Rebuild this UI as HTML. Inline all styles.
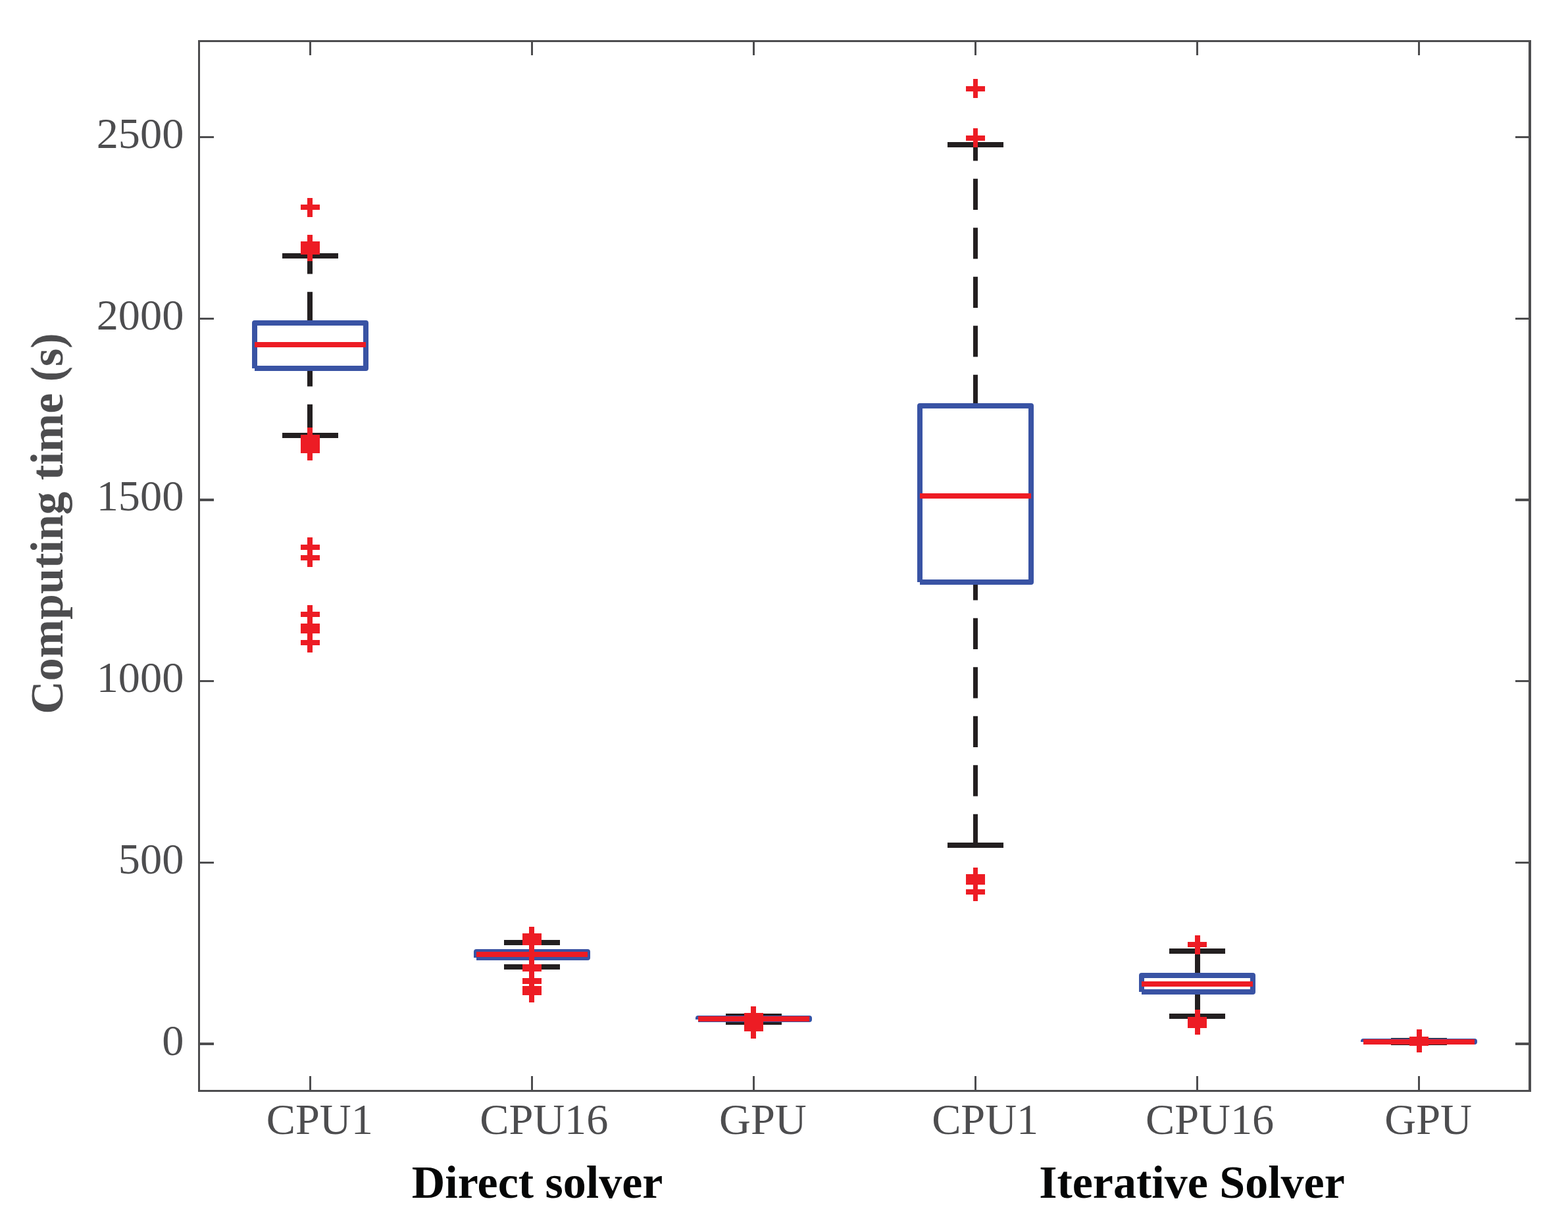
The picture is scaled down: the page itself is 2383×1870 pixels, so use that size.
<!DOCTYPE html>
<html lang="en">
<head>
<meta charset="utf-8">
<title>Computing time: direct vs iterative solver</title>
<style>
html,body{margin:0;padding:0;background:#fff;}
body{width:2383px;height:1870px;overflow:hidden;}
svg{display:block;}
svg text{font-family:"Liberation Serif",serif;}
</style>
</head>
<body>
<svg width="2383" height="1870" viewBox="0 0 2383 1870">
<rect width="2383" height="1870" fill="#fff"/>
<path d="M301 61H2327V64H301zM301 1657H2327V1660H301zM301 64H304V1657H301zM2323 64H2327V1657H2323zM470 64H473V84H470zM470 1636H473V1657H470zM807 64H810V84H807zM807 1636H810V1657H807zM1144 64H1147V84H1144zM1144 1636H1147V1657H1144zM1481 64H1484V84H1481zM1481 1636H1484V1657H1481zM1818 64H1821V84H1818zM1818 1636H1821V1657H1818zM2155 64H2158V84H2155zM2155 1636H2158V1657H2155zM304 1585H325V1589H304zM2303 1585H2323V1589H2303zM304 1310H325V1313H304zM2303 1310H2323V1313H2303zM304 1034H325V1037H304zM2303 1034H2323V1037H2303zM304 758H325V762H304zM2303 758H2323V762H2303zM304 483H325V486H304zM2303 483H2323V486H2303zM304 207H325V210H304zM2303 207H2323V210H2303z" fill="#4d4d4f"/>
<path d="M467 443.7H475V491H467zM467 389H475V416.5H467zM467 614.7H475V662H467zM467 560H475V587.5H467zM804 1433H812V1447H804zM804 1456H812V1470H804zM1141 1545H1149V1548H1141zM1141 1550H1149V1554H1141zM1479 569.7H1486V617H1479zM1479 495.2H1486V542.5H1479zM1479 420.7H1486V468H1479zM1479 346.2H1486V393.5H1479zM1479 271.7H1486V319H1479zM1479 220H1486V244.5H1479zM1479 1237.7H1486V1285H1479zM1479 1163.2H1486V1210.5H1479zM1479 1088.7H1486V1136H1479zM1479 1014.2H1486V1061.5H1479zM1479 939.7H1486V987H1479zM1479 885H1486V912.5H1479zM1816 1446H1824V1483H1816zM1816 1508H1824V1545H1816zM2153 1582H2161V1583H2153zM2153 1584H2161V1585H2153zM429 385h85v8h-85zM429 658h85v8h-85zM766 1429h85v8h-85zM766 1466h85v8h-85zM1103 1541h85v8h-85zM1103 1550h85v8h-85zM1440 216h85v8h-85zM1440 1281h85v8h-85zM1777 1442h85v8h-85zM1777 1541h85v8h-85zM2114 1578h85v8h-85zM2114 1581h85v8h-85z" fill="#231f20"/>
<path d="M387 560V491H556V560H387M724 1456V1447H893V1456H724M1061 1550V1548H1230V1550H1061M1398 885V617H1567V885H1398M1735 1508V1483H1904V1508H1735M2072 1584V1583H2241V1584H2072" stroke="#3953a4" stroke-width="8" stroke-linejoin="round" fill="none"/>
<path d="M387 520H556v8H387zM724 1447H893v8H724zM1061 1545H1230v8H1061zM1398 750H1567v8H1398zM1735 1492H1904v8H1735zM2072 1580H2241v8H2072zM467 301H475V330H467zM457 311h29V319h-29zM467 357H475V397H467zM457 367h29V387h-29zM467 650H475V700H467zM457 661h29V689h-29zM467 817H475V862H467zM457 828h29V836h-29zM457 844h29V852h-29zM467 920H475V992H467zM457 930h29V938h-29zM457 948h29V963h-29zM457 973h29V981h-29zM804 1409H812V1524H804zM794 1419h29V1437h-29zM794 1466h29V1477h-29zM794 1487h29V1496h-29zM794 1499h29V1513h-29zM1141 1530H1149V1579H1141zM1131 1540h29V1568h-29zM1479 120H1486V149H1479zM1468 131h29V139h-29zM1479 195H1486V224H1479zM1468 206h29V214h-29zM1479 1319H1486V1370H1479zM1468 1329h29V1345h-29zM1468 1352h29V1360h-29zM1816 1422H1824V1451H1816zM1805 1432h29V1440h-29zM1816 1535H1824V1573H1816zM1805 1546h29V1563h-29zM2153 1565H2161V1600H2153zM2142 1576h29V1590h-29z" fill="#ed1c24"/>
<text x="279.3" y="1603.7" text-anchor="end" font-size="66.3" fill="#4d4d4f">0</text>
<text x="279.3" y="1328.2" text-anchor="end" font-size="66.3" fill="#4d4d4f">500</text>
<text x="279.3" y="1052.2" text-anchor="end" font-size="66.3" fill="#4d4d4f">1000</text>
<text x="279.3" y="776.2" text-anchor="end" font-size="66.3" fill="#4d4d4f">1500</text>
<text x="279.3" y="501.2" text-anchor="end" font-size="66.3" fill="#4d4d4f">2000</text>
<text x="279.3" y="225.2" text-anchor="end" font-size="66.3" fill="#4d4d4f">2500</text>
<text x="485.8" y="1724.1" text-anchor="middle" font-size="66.3" fill="#4d4d4f">CPU1</text>
<text x="826.8" y="1724.1" text-anchor="middle" font-size="66.3" fill="#4d4d4f">CPU16</text>
<text x="1159.4" y="1724.1" text-anchor="middle" font-size="66.3" fill="#4d4d4f">GPU</text>
<text x="1497.2" y="1724.1" text-anchor="middle" font-size="66.3" fill="#4d4d4f">CPU1</text>
<text x="1838.6" y="1724.1" text-anchor="middle" font-size="66.3" fill="#4d4d4f">CPU16</text>
<text x="2170.6" y="1724.1" text-anchor="middle" font-size="66.3" fill="#4d4d4f">GPU</text>
<text x="816.6" y="1821.2" text-anchor="middle" font-size="70" font-weight="bold" fill="#050606">Direct solver</text>
<text x="1811.5" y="1821.2" text-anchor="middle" font-size="70" font-weight="bold" fill="#050606">Iterative Solver</text>
<text transform="translate(95.2 796.1) rotate(-90)" text-anchor="middle" font-size="70" font-weight="bold" fill="#4d4d4f">Computing time (s)</text>
</svg>
</body>
</html>
